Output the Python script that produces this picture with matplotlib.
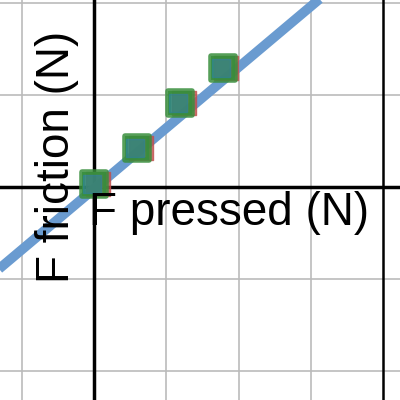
import matplotlib.pyplot as plt

x_pts = [0.0, 0.6, 1.19, 1.78]
y_pts = [0.03, 0.42, 0.91, 1.29]
fit_slope = 0.662
fit_icpt = -0.02
grid_x = [-1, 1, 2, 3]
grid_y = [-2, -1, 1, 2]

fig = plt.figure(figsize=(4, 4), dpi=100)
ax = fig.add_axes([0, 0, 1, 1])
ax.set_xlim(-1.30, 4.23)
ax.set_ylim(-2.315, 2.033)
ax.axis('off')

for g in grid_x:
    ax.axvline(g, color='#bbbbbb', lw=1.2, zorder=0)
for g in grid_y:
    ax.axhline(g, color='#bbbbbb', lw=1.2, zorder=0)
ax.axvline(4, color='black', lw=1.8, zorder=1)
ax.axvline(0, color='black', lw=2.5, zorder=1)
ax.axhline(0, color='black', lw=2.5, zorder=1)

xs = [-1.5, 4.5]
ax.plot(xs, [fit_slope * v + fit_icpt for v in xs], color='#6a9bd0', lw=7, zorder=2, solid_capstyle='butt')

ax.scatter([v + 0.05 for v in x_pts], y_pts, s=300, marker='s', color='#c0504d', alpha=0.8, zorder=3)
ax.scatter(x_pts, y_pts, s=300, marker='s', color='#388e3c', edgecolor='#388e3c', lw=4,
           alpha=0.85, zorder=4)
ax.scatter([v - 0.03 for v in x_pts], y_pts, s=180, marker='s', color='#2a7fb5', alpha=0.45, zorder=5)

ax.text(1.87, -0.28, 'F pressed (N)', fontsize=33, ha='center', va='center', family='Liberation Sans', zorder=6)
ax.text(-0.51, 0.33, 'F friction (N)', fontsize=33, ha='center', va='center', rotation=90, family='Liberation Sans', zorder=6)

fig.savefig('out.png')
